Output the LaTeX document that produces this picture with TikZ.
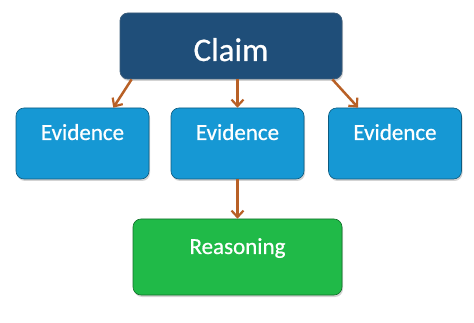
\documentclass[tikz,border=0pt]{standalone}
\usepackage{fontspec}
\setmainfont{Carlito}[FakeBold=0.6]
\newfontfamily\boxfont{Carlito}[FakeBold=0.6]
\usepackage{xcolor}
\definecolor{cerblue}{RGB}{31, 78, 121}
\definecolor{cercyan}{RGB}{22, 152, 212}
\definecolor{cergreen}{RGB}{32, 186, 72}
\definecolor{cerbrown}{RGB}{184, 96, 38}
\usetikzlibrary{arrows.meta, shadows}

\begin{document}
\begin{tikzpicture}[x=1pt, y=-1pt, >={Straight Barb[length=6.5pt, width=12pt, line width=2.2pt]},
    box/.style={rounded corners=8pt, inner sep=0pt, text=white,
        drop shadow={opacity=0.35, shadow xshift=1pt, shadow yshift=-2pt}},
    claimbox/.style={box, fill=cerblue, draw=cerblue!70!gray, line width=0.8pt,
        minimum width=222pt, text height=48pt, text depth=18pt, font=\boxfont\fontsize{33}{36}\selectfont},
    evbox/.style={box, fill=cercyan, draw=cercyan!60!black, line width=0.6pt,
        minimum width=133pt, text height=32pt, text depth=39pt, font=\boxfont\fontsize{23}{26}\selectfont},
    reasonbox/.style={box, fill=cergreen, draw=cergreen!60!black, line width=0.6pt,
        minimum width=209pt, text height=35pt, text depth=41pt, font=\boxfont\fontsize{23}{26}\selectfont},
    link/.style={->, cerbrown, line width=2.5pt}]

\useasboundingbox (0,0) rectangle (474,323);

% --- Afirmacion ---
\node[claimbox] (claim) at (231, 46) {Claim};

% --- Evidencias ---
\node[evbox] (ev1) at (82.5, 143.5) {Evidence};
\node[evbox] (ev2) at (237.5, 143.5) {Evidence};
\node[evbox] (ev3) at (395, 143.5) {Evidence};

% --- Razonamiento ---
\node[reasonbox] (reason) at (237.5, 257) {Reasoning};

% --- Flechas ---
\draw[link] ([xshift=12pt]claim.south west) -- ([xshift=-36pt]ev1.north east);
\draw[link] (ev2.north |- claim.south) -- (ev2.north);
\draw[link] ([xshift=-10pt]claim.south east) -- ([xshift=30pt]ev3.north west);
\draw[link] (ev2.south) -- (reason.north);

\end{tikzpicture}
\end{document}
